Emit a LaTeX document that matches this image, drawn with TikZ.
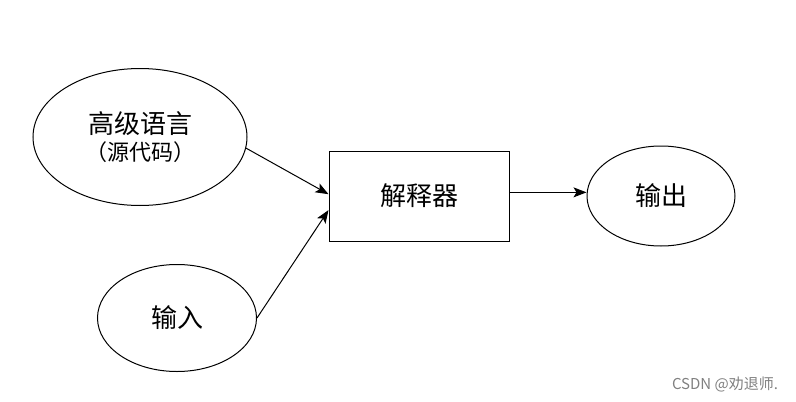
\documentclass[tikz,border=0pt]{standalone}
\usepackage{fontspec}
\setmainfont{Noto Sans CJK SC}
\usepackage{tikz}
\usetikzlibrary{positioning, shapes.geometric, arrows.meta, calc}
\tikzstyle{source} = [ellipse, draw=black, line width=1pt, minimum width=214pt, minimum height=137pt, inner sep=0pt, align=center]
\tikzstyle{io} = [ellipse, draw=black, line width=1pt, inner sep=0pt, font=\fontsize{26}{30}\selectfont]
\tikzstyle{process} = [rectangle, draw=black, line width=1pt, minimum width=180pt, minimum height=90pt, inner sep=0pt, font=\fontsize{26}{30}\selectfont]
\tikzstyle{arrow} = [line width=1pt, -{Stealth[length=13pt, width=10pt, inset=3pt]}]

\begin{document}
\begin{tikzpicture}[x=1pt, y=-1pt]
        \useasboundingbox (0,0) rectangle (796,402);
        \node[source]                                          (code)    at (140,137) {{\fontsize{26}{30}\selectfont 高级语言}\\[5pt]{\fontsize{22}{24}\selectfont （源代码）}};
        \node[io, minimum width=159pt, minimum height=107pt]   (input)   at (177,318) {输入};
        \node[process]                                         (interp)  at (419,196) {解释器};
        \node[io, minimum width=148pt, minimum height=100pt]   (output)  at (661,196) {输出};
        \node[text=gray, font=\fontsize{15}{18}\selectfont]    (mark)    at (725,384) {CSDN @劝退师.};

        \coordinate (in 1) at ($(interp.north west)!0.48!(interp.south west)$);
        \coordinate (in 2) at ($(interp.north west)!0.655!(interp.south west)$);
        \coordinate (out 1) at ($(interp.north east)!0.46!(interp.south east)$);

        \draw[arrow] (code.-6)   -- (in 1);
        \draw[arrow] (input.east) -- (in 2);
        \draw[arrow] (out 1)     -- (out 1 -| output.west);
    \end{tikzpicture}
\end{document}
